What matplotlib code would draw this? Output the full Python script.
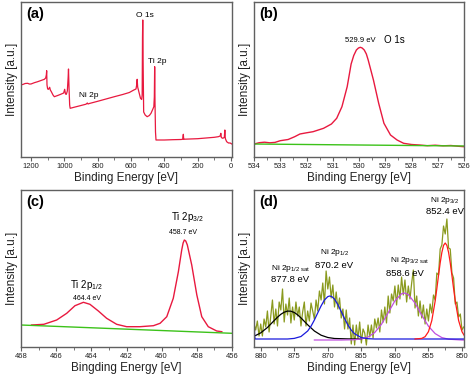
import matplotlib
matplotlib.use("Agg")
import matplotlib.pyplot as plt
from matplotlib.ticker import MultipleLocator, NullLocator

plt.rcParams['font.family'] = ['Liberation Sans', 'DejaVu Sans']
plt.rcParams['mathtext.fontset'] = 'custom'
plt.rcParams['mathtext.rm'] = 'Liberation Sans'
plt.rcParams['mathtext.it'] = 'Liberation Sans:italic'

# (a) survey spectrum
survey_e = [1260, 1245, 1235, 1220, 1210, 1200, 1180, 1160, 1140, 1120,
            1112, 1108, 1106, 1104, 1100, 1095, 1088, 1084, 1078, 1068,
            1060, 1040, 1022, 1004, 998, 993, 988, 982, 977, 975,
            972, 968, 965, 940, 900, 870, 862, 858, 850, 800,
            750, 700, 650, 610, 583, 570, 566, 563, 560, 553,
            543, 536, 533, 531, 529.5, 527, 524, 515, 503, 490,
            480, 470, 463, 460, 458, 456, 453, 450, 400, 350,
            300, 290, 286, 284, 280, 200, 150, 100, 76, 65,
            61, 58, 50, 40, 37, 35, 33, 26, 15, 5, -5]
survey_i = [72, 72.8, 73.5, 73.7, 73, 73, 74.3, 75.3, 76.5, 77.7,
            79, 82, 86.3, 72, 68, 67.7, 69.7, 67, 65.3, 62,
            60.3, 61.5, 62.7, 64, 67.7, 63, 62.7, 66, 80, 88,
            70, 52, 48.7, 49.8, 51.5, 52.8, 54, 53, 53.5, 55.7,
            58, 60.3, 62.5, 64.5, 67, 68, 72, 77.7, 70, 65.3,
            58.7, 57.5, 62, 120, 137, 90, 45, 42, 40.3, 41.5,
            43.7, 47.5, 50.3, 60, 90.3, 55, 25, 17, 17, 17.3,
            17.5, 17.7, 22.7, 17.7, 17.8, 18.3, 19, 19.7, 20.3, 21,
            23.7, 19.5, 18.7, 19.5, 27, 20, 18, 15.3, 14, 14, 13]

# (b) O 1s
o1s_e = [534.0, 533.8, 533.6, 533.4, 533.2, 533.0, 532.7, 532.45, 532.25, 532.0,
         531.75, 531.35, 531.05, 530.85, 530.65, 530.45, 530.3, 530.2, 530.1, 530.02,
         529.95, 529.88, 529.8, 529.72, 529.65, 529.45, 529.25, 529.05, 528.8, 528.55,
         528.3, 528.0, 527.7, 527.4, 527.1, 526.8, 526.5, 526.2, 526.0]
o1s_i = [13, 14.3, 14.8, 14.2, 14.6, 16.3, 17.5, 20.3, 23, 24.2,
         25.3, 28.7, 33, 38.7, 50.3, 70.3, 93, 101.5, 107, 109,
         109.7, 109, 107, 103, 97, 77, 53.7, 33.7, 22, 17,
         13.7, 12.5, 12, 11.3, 11.8, 11.2, 11.5, 10.7, 10.3]
o1s_bg_e = [534, 526]
o1s_bg_i = [13, 11]

# (c) Ti 2p
ti_e = [467.4, 466.7, 465.97, 465.4, 464.93, 464.45, 464.08, 463.6, 463.13, 462.56,
        461.99, 461.23, 460.47, 460.09, 459.71, 459.34, 459.05, 458.86, 458.78, 458.71,
        458.63, 458.54, 458.29, 458.0, 457.72, 457.35, 456.87, 456.58]
ti_i = [22, 22.7, 27, 33.7, 41.3, 44.7, 42.7, 36, 28.7, 22.7,
        20.3, 20.3, 21.3, 23.7, 30.3, 48.7, 75.3, 97, 104, 107,
        106, 102, 82, 52, 30.3, 20.3, 16, 15.3]
ti_bg_e = [468, 456]
ti_bg_i = [22, 13.7]

# (d) Ni 2p raw data and fitted components
ni_e = [881.0, 880.75, 880.5, 880.25, 880.0, 879.75, 879.5, 879.25, 879.0, 878.75,
        878.5, 878.25, 878.0, 877.75, 877.5, 877.25, 877.0, 876.75, 876.5, 876.25,
        876.0, 875.75, 875.5, 875.25, 875.0, 874.75, 874.5, 874.25, 874.0, 873.75,
        873.5, 873.25, 873.0, 872.75, 872.5, 872.25, 872.0, 871.75, 871.5, 871.25,
        871.0, 870.75, 870.5, 870.25, 870.0, 869.75, 869.5, 869.25, 869.0, 868.75,
        868.5, 868.25, 868.0, 867.75, 867.5, 867.25, 867.0, 866.75, 866.5, 866.25,
        866.0, 865.75, 865.5, 865.25, 865.0, 864.75, 864.5, 864.25, 864.0, 863.75,
        863.5, 863.25, 863.0, 862.75, 862.5, 862.25, 862.0, 861.75, 861.5, 861.25,
        861.0, 860.75, 860.5, 860.25, 860.0, 859.75, 859.5, 859.25, 859.0, 858.75,
        858.5, 858.25, 858.0, 857.75, 857.5, 857.25, 857.0, 856.75, 856.5, 856.25,
        856.0, 855.75, 855.5, 855.25, 855.0, 854.75, 854.5, 854.25, 854.0, 853.75,
        853.5, 853.25, 853.0, 852.75, 852.5, 852.25, 852.0, 851.75, 851.5, 851.25,
        851.0, 850.75, 850.5, 850.25, 850.0, 849.75]
ni_i = [23, 17, 26, 11, 23, 11, 28, 20, 36, 15,
        31, 47, 23, 38, 21, 45, 37, 58, 25, 43,
        32, 49, 24, 40, 27, 45, 31, 40, 21, 35,
        45, 21, 36, 26, 44, 36, 28, 47, 36, 56,
        47, 64, 43, 76, 58, 70, 49, 62, 40, 55,
        38, 49, 29, 38, 18, 37, 18, 29, 3, 22,
        2, 22, 8, 25, 4, 18, 14, 2, 22, 10,
        22, 9, 28, 19, 29, 15, 37, 25, 40, 24,
        51, 34, 53, 46, 61, 42, 62, 48, 70, 52,
        67, 45, 61, 48, 64, 77, 39, 51, 31, 46,
        29, 42, 23, 38, 26, 43, 34, 52, 47, 74,
        72, 98, 102, 121, 113, 128, 99, 98, 74, 69,
        43, 45, 30, 33, 17, 20]

sat12_e = [881, 880, 879, 878, 877.5, 877, 876.5, 876, 875.5, 875,
           874.5, 874, 873, 872, 871, 870, 869, 867, 865]
sat12_i = [10.7, 14.1, 19.5, 26.4, 29.8, 32.7, 34.8, 35.9, 35.8, 34.5,
           32.2, 29.1, 22.2, 16.0, 11.8, 9.5, 8.5, 8.1, 8.0]

p12_e = [881, 880.9, 880.8, 876, 875, 874, 873, 872.5, 872, 871.5,
         871, 870.5, 870, 869.7, 869.4, 869, 868.5, 868, 867.5, 867,
         866.5, 866, 865, 864, 863, 849.7]
p12_i = [34, 10, 8, 8, 8.6, 10.5, 16.0, 20.8, 27.0, 34.1,
         41.1, 47.0, 50.4, 51, 50.4, 47.9, 42.4, 35.5, 28.4, 22.0,
         16.8, 13.2, 9.4, 8.3, 8.0, 8.0]

sat32_e = [872, 868, 866, 865, 864, 863, 862, 861, 860, 859,
           858.6, 858, 857, 856, 855, 854, 853, 852, 850, 849.7]
sat32_i = [7, 7, 7.3, 8, 10, 14.5, 22.7, 34.3, 46.1, 53.3,
           54, 52.4, 43.9, 31.8, 20.8, 13.4, 9.4, 7.8, 7, 7]

p32_e = [857, 856, 855.5, 855, 854.5, 854, 853.75, 853.5, 853.25, 853,
         852.75, 852.5, 852.25, 852, 851.75, 851.5, 851.25, 851, 850.5, 850, 849.7]
p32_i = [8, 8.6, 10.3, 15.3, 26.4, 45.9, 58.3, 71.5, 84.1, 94.6,
         101.6, 104, 101.6, 94.6, 84.1, 71.5, 58.3, 45.9, 26.4, 15.3, 11.9]

red = '#e8193f'
green = '#3cc21a'
spine = '#606060'

fig = plt.figure(figsize=(4.74, 3.75), dpi=100)
ax_a = fig.add_axes([21/474, 1-157/375, 211/474, 155/375])
ax_b = fig.add_axes([254/474, 1-157/375, 210/474, 155/375])
ax_c = fig.add_axes([21/474, 1-347/375, 211/474, 157/375])
ax_d = fig.add_axes([254/474, 1-347/375, 210/474, 157/375])


def style(ax, tag, xlabel, major, minor):
    for s in ax.spines.values():
        s.set_color(spine)
        s.set_linewidth(1.0)
    ax.xaxis.set_major_locator(MultipleLocator(major))
    ax.xaxis.set_minor_locator(MultipleLocator(minor))
    ax.yaxis.set_major_locator(NullLocator())
    ax.tick_params(axis='x', which='major', direction='out', length=3, width=0.8,
                   color=spine, labelsize=5.5, pad=1.5, labelcolor='#222222')
    ax.tick_params(axis='x', which='minor', direction='out', length=1.8, width=0.6, color=spine)
    ax.set_xlabel(xlabel, fontsize=8.5, labelpad=1, color='#222222')
    ax.set_ylabel('Intensity [a.u.]', fontsize=8.5, labelpad=2, color='#222222')
    ax.text(0.025, 0.925, tag, transform=ax.transAxes, fontsize=10.5,
            fontweight='bold', va='center', ha='left')


# (a)
ax_a.plot(survey_e, survey_i, color=red, lw=0.9)
ax_a.set_xlim(1260, -6)
ax_a.set_ylim(0, 155)
style(ax_a, '(a)', 'Binding Energy [eV]', 200, 100)
ax_a.text(519, 142, 'O 1s', fontsize=6, ha='center', va='center')
ax_a.text(442, 96, 'Ti 2p', fontsize=6, ha='center', va='center')
ax_a.text(854, 62, 'Ni 2p', fontsize=6, ha='center', va='center')

# (b)
ax_b.plot(o1s_e, o1s_i, color=red, lw=1.0)
ax_b.plot(o1s_bg_e, o1s_bg_i, color=green, lw=1.0)
ax_b.set_xlim(534, 526)
ax_b.set_ylim(0, 155)
style(ax_b, '(b)', 'Binding Energy [eV]', 1, 0.5)
ax_b.text(529.95, 117, '529.9 eV', fontsize=5.5, ha='center', va='center')
ax_b.text(528.65, 117, 'O 1s', fontsize=7, ha='center', va='center')

# (c)
ax_c.plot(ti_e, ti_i, color=red, lw=1.0)
ax_c.plot(ti_bg_e, ti_bg_i, color=green, lw=1.0)
ax_c.set_xlim(468, 456)
ax_c.set_ylim(0, 157)
style(ax_c, '(c)', 'Bingding Energy [eV]', 2, 1)
ax_c.text(458.55, 130, 'Ti 2p$_{3/2}$', fontsize=7, ha='center', va='center')
ax_c.text(458.8, 114, '458.7 eV', fontsize=5, ha='center', va='center')
ax_c.text(464.25, 62, 'Ti 2p$_{1/2}$', fontsize=7, ha='center', va='center')
ax_c.text(464.25, 49, '464.4 eV', fontsize=5, ha='center', va='center')

# (d)
ax_d.plot(ni_e, ni_i, color='#8a9a1e', lw=0.9)
ax_d.plot(sat12_e, sat12_i, color='black', lw=0.9)
ax_d.plot(sat32_e, sat32_i, color='#c04ee0', lw=0.9)
ax_d.plot(p12_e, p12_i, color='#1a1adc', lw=0.9)
ax_d.plot(p32_e, p32_i, color='#ff1a1a', lw=0.9)
ax_d.set_xlim(881, 849.7)
ax_d.set_ylim(0, 157)
style(ax_d, '(d)', 'Binding Energy [eV]', 5, 2.5)
ax_d.text(852.5, 147, 'Ni 2p$_{3/2}$', fontsize=6, ha='center', va='center')
ax_d.text(852.5, 135, '852.4 eV', fontsize=6.8, ha='center', va='center')
ax_d.text(857.75, 86, r'Ni 2p$_{3/2\ \mathrm{sat}}$', fontsize=6, ha='center', va='center')
ax_d.text(858.5, 73, '858.6 eV', fontsize=6.8, ha='center', va='center')
ax_d.text(868.9, 94, 'Ni 2p$_{1/2}$', fontsize=6, ha='center', va='center')
ax_d.text(869.1, 82, '870.2 eV', fontsize=6.8, ha='center', va='center')
ax_d.text(875.6, 78, r'Ni 2p$_{1/2\ \mathrm{sat}}$', fontsize=6, ha='center', va='center')
ax_d.text(875.6, 67, '877.8 eV', fontsize=6.8, ha='center', va='center')

fig.savefig('out.png', dpi=100)
